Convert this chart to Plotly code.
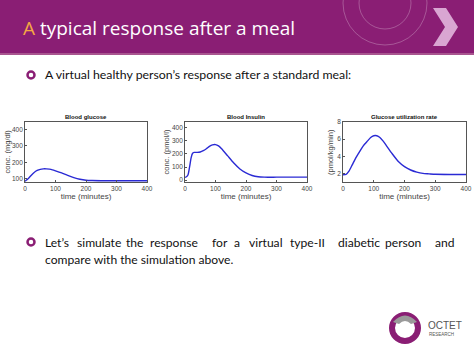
import plotly.graph_objects as go

W, H = 474, 355
def px(x): return x / W
def py(y): return 1 - y / H

# ---- data ----
t_glu = [0, 5, 10, 20, 30, 40, 50, 60, 70, 80, 90, 100, 120, 140, 160, 180, 200, 220, 250, 300, 350, 400]
glucose = [84, 92, 100, 120, 138, 150, 157, 160, 160, 158, 154, 148, 135, 120, 107, 97, 91, 89, 88, 88, 88, 88]

t_ins = [0, 5, 10, 15, 20, 25, 30, 40, 50, 60, 70, 80, 90, 100, 110, 120, 140, 160, 180, 200, 220, 240, 260, 300, 350, 400]
insulin = [20, 25, 40, 100, 170, 205, 212, 212, 215, 225, 240, 258, 270, 272, 262, 240, 185, 130, 85, 55, 35, 25, 22, 22, 22, 22]

t_util = [0, 10, 20, 30, 40, 50, 60, 70, 80, 90, 100, 110, 120, 130, 140, 160, 180, 200, 220, 240, 260, 280, 300, 350, 400]
util = [1.85, 1.9, 2.3, 3.0, 3.7, 4.3, 4.9, 5.4, 5.8, 6.2, 6.4, 6.4, 6.2, 5.8, 5.3, 4.3, 3.4, 2.8, 2.4, 2.15, 2.0, 1.95, 1.9, 1.88, 1.88]

titles = ["Blood glucose", "Blood Insulin", "Glucose utilization rate"]
ytitles = ["conc. (mg/dl)", "conc. (pmol/l)", "(pmol/kg/min)"]
xtitle = "time (minutes)"
xticks = [0, 100, 200, 300, 400]
yticks = [[100, 200, 300, 400], [0, 100, 200, 300, 400], [2, 4, 6, 8]]
yranges = [[80, 445], [-15, 445], [1, 8]]

header_title = "typical response after a meal"
bullet1 = "A virtual healthy person’s response after a standard meal:"
bullet2_words = ["Let’s", "simulate", "the", "response", "for", "a", "virtual", "type-II", "diabetic", "person", "and"]
bullet2_line2 = "compare with the simulation above."

PURPLE = "#8a1e74"
LINE = "#2a2ad4"

fig = go.Figure()
series = [(t_glu, glucose), (t_ins, insulin), (t_util, util)]
xdom = [(25, 147), (185, 307), (343, 466)]
ytitle_x = [6.5, 165.5, 330]
ydom = (py(182), py(122))
tickfont = dict(size=6.5, color="#444", family="Liberation Sans")
titlefont = dict(size=7.5, color="#444", family="Liberation Sans")

for i, (tx, yv) in enumerate(series):
    s = "" if i == 0 else str(i + 1)
    fig.add_trace(go.Scatter(x=tx, y=yv, mode="lines", line=dict(color=LINE, width=1.4, shape="spline", smoothing=0.6),
                             xaxis="x" + s, yaxis="y" + s, showlegend=False, hoverinfo="skip"))
    ax = dict(domain=[px(xdom[i][0]), px(xdom[i][1])], range=[0, 400], tickvals=xticks, automargin=False,
              showline=True, linecolor="#555", linewidth=0.8, mirror=True, ticks="inside", ticklen=2,
              tickcolor="#555", showgrid=False, zeroline=False, tickfont=tickfont,
              title=dict(text=xtitle, font=dict(size=8, color="#444", family="Liberation Sans"), standoff=1),
              anchor="y" + s)
    ay = dict(domain=list(ydom), range=yranges[i], tickvals=yticks[i], automargin=False,
              showline=True, linecolor="#555", linewidth=0.8, mirror=True, ticks="inside", ticklen=2,
              tickcolor="#555", showgrid=False, zeroline=False, tickfont=tickfont,
              anchor="x" + s)
    fig.update_layout(**{"xaxis" + s: ax, "yaxis" + s: ay})
    fig.add_annotation(text="<b>" + titles[i] + "</b>", x=px((xdom[i][0] + xdom[i][1]) / 2), y=py(117),
                       xref="paper", yref="paper", showarrow=False, xanchor="center", yanchor="middle",
                       font=dict(size=6, color="#111", family="Liberation Sans"))
    fig.add_annotation(text=ytitles[i], x=px(ytitle_x[i]), y=py(152), textangle=-90,
                       xref="paper", yref="paper", showarrow=False, xanchor="center", yanchor="middle",
                       font=titlefont)

shapes = []
# header band
shapes.append(dict(type="rect", xref="paper", yref="paper", x0=0, x1=1, y0=py(53), y1=1, fillcolor=PURPLE, line_width=0, layer="below"))
shapes.append(dict(type="rect", xref="paper", yref="paper", x0=0, x1=1, y0=py(55), y1=py(53), fillcolor="#a8558f", line_width=0, layer="below"))
# header decorative circles
for r in (42, 26):
    shapes.append(dict(type="circle", xref="paper", yref="paper", x0=px(385 - r), x1=px(385 + r), y0=py(3 + r), y1=py(3 - r),
                       line=dict(color="rgba(255,255,255,0.25)", width=1), layer="below"))
# chevron
shapes.append(dict(type="path", xref="paper", yref="paper",
                   path=f"M {px(433)} {py(8)} L {px(446)} {py(8)} L {px(458)} {py(27)} L {px(446)} {py(46)} L {px(433)} {py(46)} L {px(445)} {py(27)} Z",
                   fillcolor="#d9a6d2", line_width=0))
# bullets (ring icons)
for by in (75, 242):
    shapes.append(dict(type="circle", xref="paper", yref="paper", x0=px(27.5), x1=px(34.5), y0=py(by + 3.5), y1=py(by - 3.5),
                       line=dict(color=PURPLE, width=2.5)))
# logo ring
shapes.append(dict(type="circle", xref="paper", yref="paper", x0=px(392), x1=px(418), y0=py(341), y1=py(315),
                   line=dict(color=PURPLE, width=6)))
shapes.append(dict(type="path", xref="paper", yref="paper",
                   path=f"M {px(393)} {py(322)} Q {px(405)} {py(309)} {px(417)} {py(322)} L {px(411)} {py(324)} Q {px(405)} {py(318)} {px(399)} {py(324)} Z",
                   fillcolor="#9a9a9a", line_width=0))
fig.update_layout(shapes=shapes)

# header title
fig.add_annotation(text="<span style='color:#f5a843'>A</span> " + header_title, x=px(21), y=py(28), xref="paper", yref="paper",
                   xanchor="left", yanchor="middle", showarrow=False, font=dict(size=19, color="white", family="Open Sans"))
# bullet 1
fig.add_annotation(text=bullet1, x=px(43), y=py(75), xref="paper", yref="paper", xanchor="left", yanchor="middle",
                   showarrow=False, font=dict(size=12.3, color="#111", family="Lato"))
# bullet 2 (justified line)
word_x = [43, 75, 124, 148, 210, 232, 247, 288, 336, 383, 433]
for w, wx in zip(bullet2_words, word_x):
    fig.add_annotation(text=w, x=px(wx), y=py(242), xref="paper", yref="paper", xanchor="left", yanchor="middle",
                       showarrow=False, font=dict(size=12.1, color="#111", family="Lato"))
fig.add_annotation(text=bullet2_line2, x=px(43), y=py(259), xref="paper", yref="paper", xanchor="left", yanchor="middle",
                   showarrow=False, font=dict(size=12.1, color="#111", family="Lato"))
# logo text
fig.add_annotation(text="OCTET", x=px(426), y=py(325), xref="paper", yref="paper", xanchor="left", yanchor="middle",
                   showarrow=False, font=dict(size=10, color="#555", family="Liberation Sans"))
fig.add_annotation(text="RESEARCH", x=px(427), y=py(334), xref="paper", yref="paper", xanchor="left", yanchor="middle",
                   showarrow=False, font=dict(size=4.5, color="#555", family="Liberation Sans"))

fig.update_layout(width=W, height=H, margin=dict(l=0, r=0, t=0, b=0, autoexpand=False),
                  paper_bgcolor="white", plot_bgcolor="white")
fig.write_html("out.html", config={"displayModeBar": False},
               post_script="document.body.style.margin='0px';document.body.style.overflow='hidden';")
